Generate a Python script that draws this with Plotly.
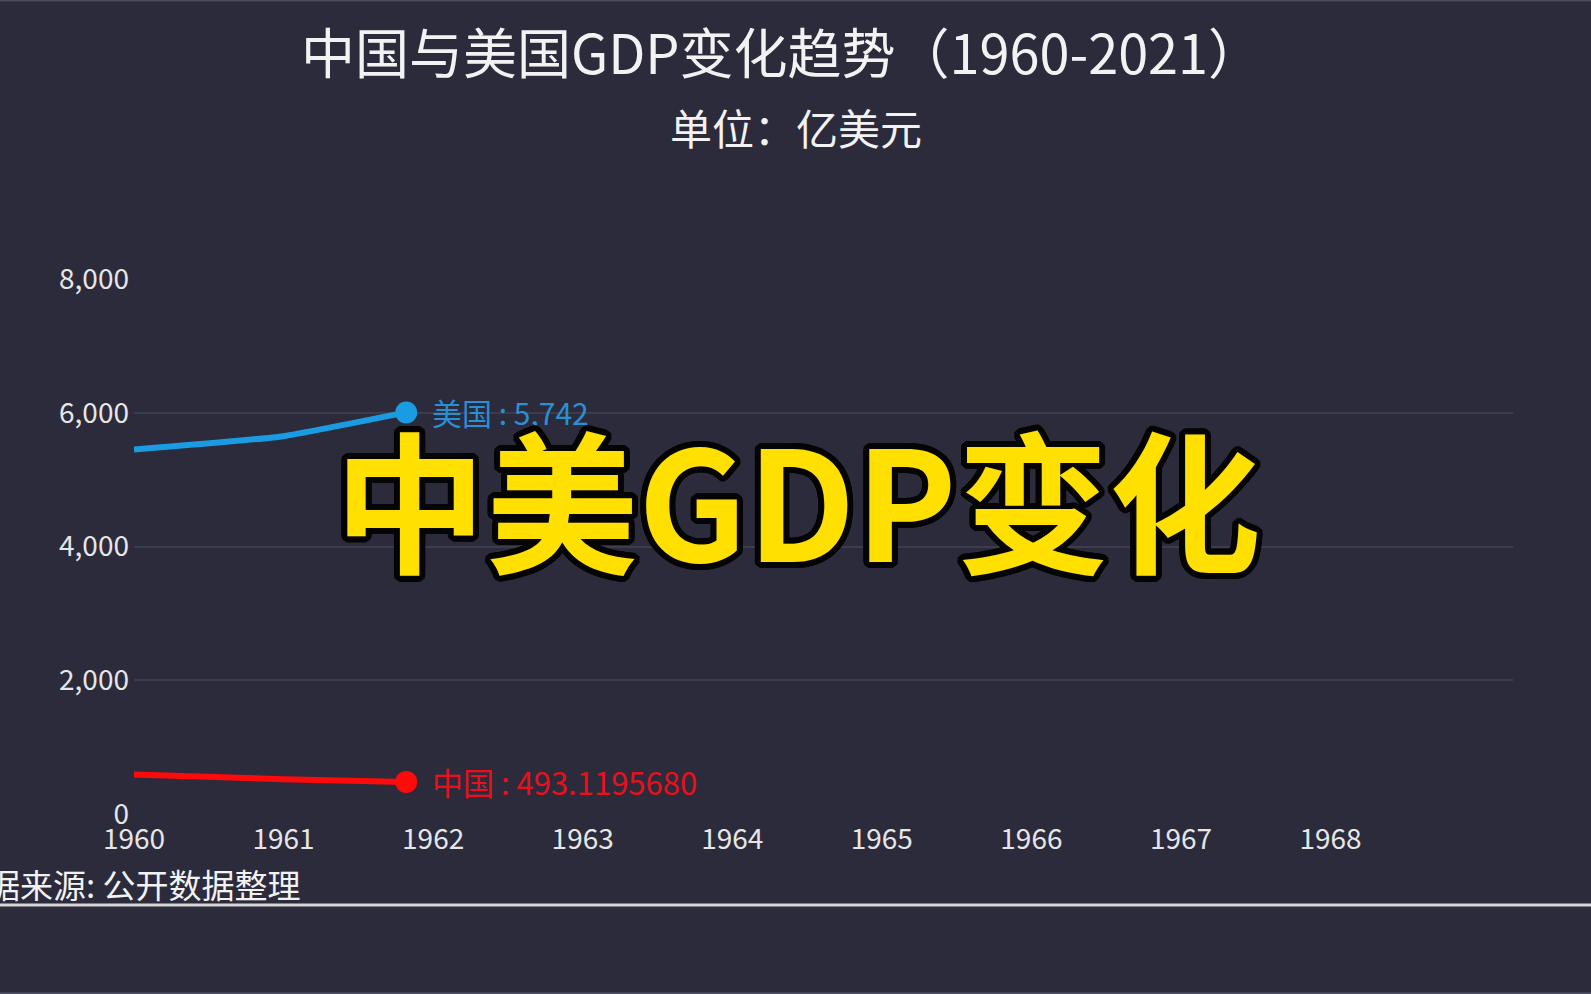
import math
import plotly.graph_objects as go

# ---- data ----
years = [1960, 1961, 1961.82]
usa_gdp = [5450, 5650, 6005]
china_gdp = [590, 520, 480]
usa_label = "美国 : 5,742"
china_label = "中国 : 493.1195680"
x_ticks = [1960, 1961, 1962, 1963, 1964, 1965, 1966, 1967, 1968]
y_ticks = [0, 2000, 4000, 6000, 8000]

title_text = "中国与美国GDP变化趋势（1960-2021）"
subtitle_text = "单位：亿美元"
source_text = "数据来源: 公开数据整理"
overlay_text = "中美GDP变化"

# ---- layout geometry ----
WIDTH, HEIGHT = 1591, 994
L, R, T, B = 134, 1513, 279, 814
PW, PH = R - L, B - T


def px(x):
    return (x - L) / PW


def py(y):
    return (B - y) / PH


BG = "#2c2b3c"
GRID = "#3d3c4e"
FONT = "Noto Sans CJK SC"
BLUE = "#1a9ce2"
RED = "#ff0a0a"

fig = go.Figure()

fig.add_trace(go.Scatter(
    x=years, y=usa_gdp, mode="lines",
    line=dict(color=BLUE, width=6, shape="spline", smoothing=0.4),
    hoverinfo="skip", showlegend=False))
fig.add_trace(go.Scatter(
    x=years, y=china_gdp, mode="lines",
    line=dict(color=RED, width=6, shape="spline", smoothing=0.4),
    hoverinfo="skip", showlegend=False))
fig.add_trace(go.Scatter(
    x=[years[-1]], y=[usa_gdp[-1]], mode="markers",
    marker=dict(color=BLUE, size=22), hoverinfo="skip", showlegend=False))
fig.add_trace(go.Scatter(
    x=[years[-1]], y=[china_gdp[-1]], mode="markers",
    marker=dict(color=RED, size=22), hoverinfo="skip", showlegend=False))

annotations = [
    dict(x=years[-1], y=usa_gdp[-1], xref="x", yref="y", text=usa_label,
         showarrow=False, xanchor="left", yanchor="middle", xshift=24,
         font=dict(family=FONT, size=30, color="#2a8fd3")),
    dict(x=years[-1], y=china_gdp[-1], xref="x", yref="y", text=china_label,
         showarrow=False, xanchor="left", yanchor="middle", xshift=24,
         font=dict(family=FONT, size=31, color="#e8101c")),
    dict(x=px(781), y=py(50), xref="paper", yref="paper", text=title_text,
         showarrow=False, xanchor="center", yanchor="middle",
         font=dict(family=FONT, size=54, color="#f2f2f2")),
    dict(x=px(796), y=py(127), xref="paper", yref="paper", text=subtitle_text,
         showarrow=False, xanchor="center", yanchor="middle",
         font=dict(family=FONT, size=42, color="#f2f2f2")),
    dict(x=px(303), y=py(884), xref="paper", yref="paper", text=source_text,
         showarrow=False, xanchor="right", yanchor="middle",
         font=dict(family=FONT, size=33, color="#f2f2f2")),
]

# outline via multiple text shadows
r = 6
offs = []
for k in range(24):
    a = 2 * math.pi * k / 24
    offs.append(f"{r*math.cos(a):.1f}px {r*math.sin(a):.1f}px 0 #050505")
shadow = ", ".join(offs)

annotations.append(dict(
    x=px(797), y=py(496), xref="paper", yref="paper", text=overlay_text,
    showarrow=False, xanchor="center", yanchor="middle",
    font=dict(family=FONT, size=152, color="#ffe000", weight=700, shadow=shadow)))

shapes = [
    dict(type="line", xref="paper", yref="paper", x0=px(0), x1=px(WIDTH),
         y0=py(905), y1=py(905), line=dict(color="#d6d6d6", width=3), layer="above"),
    dict(type="line", xref="paper", yref="paper", x0=px(0), x1=px(WIDTH),
         y0=py(0.5), y1=py(0.5), line=dict(color="#4a4a5a", width=2), layer="above"),
    dict(type="line", xref="paper", yref="paper", x0=px(0), x1=px(WIDTH),
         y0=py(993.5), y1=py(993.5), line=dict(color="#55556a", width=2), layer="above"),
]

fig.update_layout(
    width=WIDTH, height=HEIGHT,
    margin=dict(l=L, r=WIDTH - R, t=T, b=HEIGHT - B, pad=0),
    paper_bgcolor=BG, plot_bgcolor=BG,
    annotations=annotations, shapes=shapes,
    showlegend=False,
    xaxis=dict(range=[1960, 1969.22], tickvals=x_ticks,
               ticktext=[str(v) for v in x_ticks],
               showgrid=False, zeroline=False, showline=False,
               ticks="", ticklabelstandoff=6,
               tickfont=dict(family=FONT, size=28, color="#e6e6e6")),
    yaxis=dict(range=[0, 8000], tickvals=y_ticks, tickformat=",d",
               showgrid=True, gridcolor=GRID, gridwidth=1.5,
               zeroline=False, showline=False, ticks="", ticklabelstandoff=4,
               tickfont=dict(family=FONT, size=28, color="#e6e6e6")),
)

fig.write_html(
    "out.html",
    config={"displayModeBar": False},
    post_script="document.body.style.margin='0px';document.body.style.background='#2c2b3c';",
)
